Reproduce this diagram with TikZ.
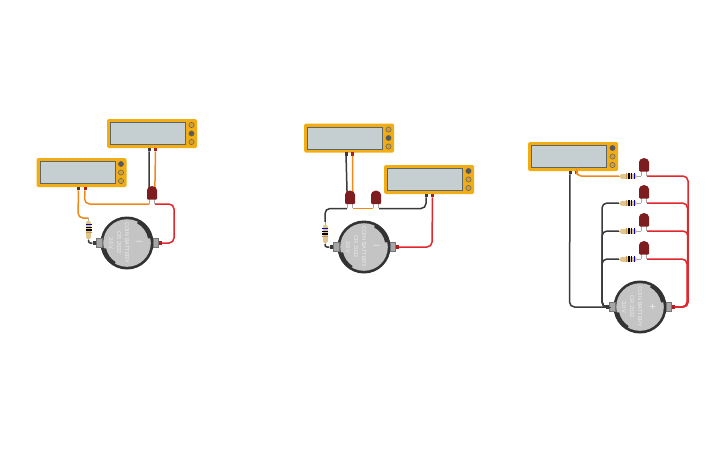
\documentclass[tikz,border=0pt]{standalone}
\usepackage{fontspec}
\setmainfont{Liberation Sans}
\definecolor{mbody}{HTML}{F2AC14}
\definecolor{mscreen}{HTML}{C5CFD1}
\definecolor{mframe}{HTML}{5F6563}
\definecolor{ledred}{HTML}{7E1D1F}
\definecolor{wblack}{HTML}{3A3A3A}
\definecolor{wred}{HTML}{E3262B}
\definecolor{worange}{HTML}{F0891A}
\definecolor{cellgrey}{HTML}{C4C4C4}
\definecolor{celldark}{HTML}{333333}
\definecolor{tabgrey}{HTML}{A6A6A6}
\definecolor{lead}{HTML}{A8A8A8}
\definecolor{restan}{HTML}{E0C68C}
\definecolor{tipred}{HTML}{A81F22}
\tikzset{
 meterbody/.style={fill=mbody,rounded corners=1.5pt,minimum width=90pt,minimum height=29pt,inner sep=0pt},
 meterscreen/.style={fill=mscreen,draw=mframe,line width=1pt,minimum width=75pt,minimum height=22pt,inner sep=0pt},
 knob/.style={circle,draw=wblack!80,line width=.5pt,fill=mbody!70!gray,minimum size=5.2pt,inner sep=0pt},
 knobdark/.style={knob,fill=wblack!85},
 tipk/.style={fill=wblack,minimum width=3pt,minimum height=3.5pt,inner sep=0pt},
 tipr/.style={fill=tipred,minimum width=3pt,minimum height=3.5pt,inner sep=0pt},
 wire/.style={line width=1.5pt,rounded corners=5pt},
 wk/.style={wire,draw=wblack},
 wr/.style={wire,draw=wred},
 wo/.style={wire,draw=worange},
 leadline/.style={line width=1pt,draw=lead},
 ledbody/.style={fill=ledred},
 celltext/.style={text=white!92!black,rotate=-90,font=\fontsize{5.6}{5.6}\selectfont,inner sep=0pt},
 band/.style={line width=1.1pt},
 pt/.style={inner sep=0pt,minimum size=0pt},
}
\newcommand{\meter}[4]{%
 \node[meterbody] (#1) at (#2,#3) {};
 \node[meterscreen] (#1s) at (#2-4,#3) {};
 \foreach \k/\dy in {1/-8.5,2/0,3/8.5}{
  \ifnum\k=#4\relax \node[knobdark] (#1k\k) at (#2+39.5,#3+\dy) {};
  \else \node[knob] (#1k\k) at (#2+39.5,#3+\dy) {};\fi}
 \node[tipk] (#1b) at (#2-3,#3+16) {};
 \node[tipr] (#1r) at (#2+3.5,#3+16) {};
}
% LED pins, defined before the wires
\newcommand{\ledpins}[3]{%
 \node[pt] (#1ta) at (#2-2.8,#3) {};
 \node[pt] (#1tc) at (#2+2.8,#3) {};
 \node[pt] (#1a) at (#2-2.8,#3+5) {};
 \node[pt] (#1c) at (#2+2.8,#3+5) {};
 \node[pt] (#1af) at (#2-2.8,#3+10.5) {};
 \node[pt] (#1cf) at (#2+2.8,#3+10.5) {};
 \draw[leadline] (#1a) -- (#1af);
 \draw[leadline] (#1c) -- (#1cf);
}
% LED body, drawn over the wires
\newcommand{\led}[2]{%
 \path[ledbody,rounded corners=1pt] (#1-5,#2+6) -- (#1-5,#2-2.5) arc[start angle=180,end angle=360,radius=5] -- (#1+5,#2+6) -- cycle;
}
\newcommand{\resv}[3]{%
 \node[pt] (#1t) at (#2,#3) {};
 \node[pt] (#1u) at (#2,#3+5) {};
 \node[pt] (#1d) at (#2,#3+19) {};
 \node[pt] (#1e) at (#2,#3+22) {};
 \draw[leadline] (#1t) -- (#1u);
 \draw[leadline] (#1d) -- (#1e);
 \draw[line width=5pt,draw=restan,line cap=round] (#1u) -- (#1d);
 \draw[band,draw=blue!80!black] (#2-3,#3+6.5) -- ++(6,0);
 \draw[band,draw=black] (#2-3,#3+9.5) -- ++(6,0);
 \draw[band,draw=black] (#2-3,#3+12) -- ++(6,0);
 \draw[band,draw=brown!70!restan] (#2-3,#3+14.5) -- ++(6,0);
}
\newcommand{\resh}[3]{%
 \node[pt] (#1l) at (#2-1,#3) {};
 \node[pt] (#1m) at (#2+2,#3) {};
 \node[pt] (#1n) at (#2+14.5,#3) {};
 \node[pt] (#1o) at (#2+21,#3) {};
 \draw[leadline] (#1l) -- (#1m);
 \draw[leadline] (#1n) -- (#1o);
 \draw[line width=5pt,draw=restan,line cap=round] (#1m) -- (#1n);
 \draw[band,draw=blue!80!black] (#2+14.5,#3-3) -- ++(0,6);
 \draw[band,draw=black] (#2+11.5,#3-3) -- ++(0,6);
 \draw[band,draw=black] (#2+9,#3-3) -- ++(0,6);
 \draw[band,draw=brown!70!restan] (#2+6.5,#3-3) -- ++(0,6);
}
% coin cell: name, cx, cy, polarity mark
\newcommand{\cell}[4]{%
 \fill[celldark] (#2,#3) circle[radius=26.5];
 \fill[cellgrey] (#2,#3) circle[radius=23.8];
 \fill[celldark] (#2,#3) ++(-62:26) arc[start angle=-62,end angle=-10,radius=26] -- ++(-4.5,0) arc[start angle=-10,end angle=-62,radius=21.5] -- cycle;
 \fill[celldark] (#2,#3) ++(122:26) arc[start angle=122,end angle=168,radius=26] -- ++(4.5,0) arc[start angle=168,end angle=122,radius=21.5] -- cycle;
 \fill[tabgrey,draw=wblack!70,line width=.4pt] (#2-31,#3-4.5) rectangle (#2-25,#3+4.5);
 \fill[tabgrey,draw=wblack!70,line width=.4pt] (#2+26,#3-4.5) rectangle (#2+31,#3+4.5);
 \node[celltext] (#1t1) at (#2,#3) {COIN BATTERY};
 \node[celltext] (#1t2) at (#2-8,#3) {CR 2032};
 \node[celltext] (#1t3) at (#2-16,#3) {3.0V};
 \node[text=white!92!black,font=\fontsize{11}{11}\selectfont,inner sep=0pt] (#1p) at (#2+12.5,#3) {#4};
 \node[tipk] (#1b) at (#2-33,#3) {};
 \node[tipr] (#1r) at (#2+33,#3) {};
}
\begin{document}
\begin{tikzpicture}[x=1pt,y=-1pt]
\useasboundingbox (0,0) rectangle (725,453);
% ---- circuit 1
\meter{ma}{152}{133.5}{2}
\meter{mb}{81.5}{172.5}{1}
\resv{ra}{88.5}{218}
\cell{ba}{127}{243}{–}
\ledpins{la}{152}{193.5}
\draw[wk] (mab) -- (lata);
\draw[wo] (mar) -- (latc);
\draw[wo] (mbb) -- (78,218) -- (rat);
\draw[wo] (mbr) -- (84.5,204) -- (laaf);
\draw[wr] (lacf) -- (174,204) -- (174,243) -- (bar);
\draw[wk,rounded corners=2pt] (rae) -- (88.5,243) -- (bab);
\led{152}{193.5}
% ---- circuit 2
\meter{mc}{349}{138}{2}
\meter{md}{429}{179.5}{1}
\resv{rb}{325}{222}
\cell{bb}{364}{247}{–}
\ledpins{lb}{350}{198}
\ledpins{lc}{376}{198}
\draw[wk] (mcb) -- (lbta);
\draw[wo] (mcr) -- (lbtc);
\draw[wo] (lbcf) -- (lcaf);
\draw[wk] (lbaf) -- (325,208.5) -- (rbt);
\draw[wk] (lccf) -- (426,208.5) -- (mdb);
\draw[wr] (mdr) -- (432,247) -- (bbr);
\draw[wk,rounded corners=2pt] (rbe) -- (325,247) -- (bbb);
\led{350}{198}
\led{376}{198}
% ---- circuit 3
\meter{me}{573}{156.5}{1}
\resh{rc}{620}{176}
\resh{rd}{620}{203}
\resh{re}{620}{231}
\resh{rf}{620}{259}
\cell{bc}{640}{307}{+}
\ledpins{ld}{644}{165.5}
\ledpins{le}{644}{192.5}
\ledpins{lf}{644}{220.5}
\ledpins{lg}{644}{248.5}
\draw[wk] (meb) -- (569.5,307) -- (bcb);
\draw[wo] (mer) -- (576,176) -- (rcl);
\draw[wk] (rdl) -- (602,203) -- (602,307) -- (bcb);
\draw[wk] (rel) -- (602,231) -- (602,307) -- (bcb);
\draw[wk] (rfl) -- (602,259) -- (602,307) -- (bcb);
\draw[wr] (ldcf) -- (688,176) -- (688,307) -- (bcr);
\draw[wr] (lecf) -- (687.5,203) -- (687.5,307) -- (bcr);
\draw[wr] (lfcf) -- (688,231) -- (688,307) -- (bcr);
\draw[wr] (lgcf) -- (687,259) -- (687,307) -- (bcr);
\led{644}{165.5}
\led{644}{192.5}
\led{644}{220.5}
\led{644}{248.5}
\end{tikzpicture}
\end{document}
